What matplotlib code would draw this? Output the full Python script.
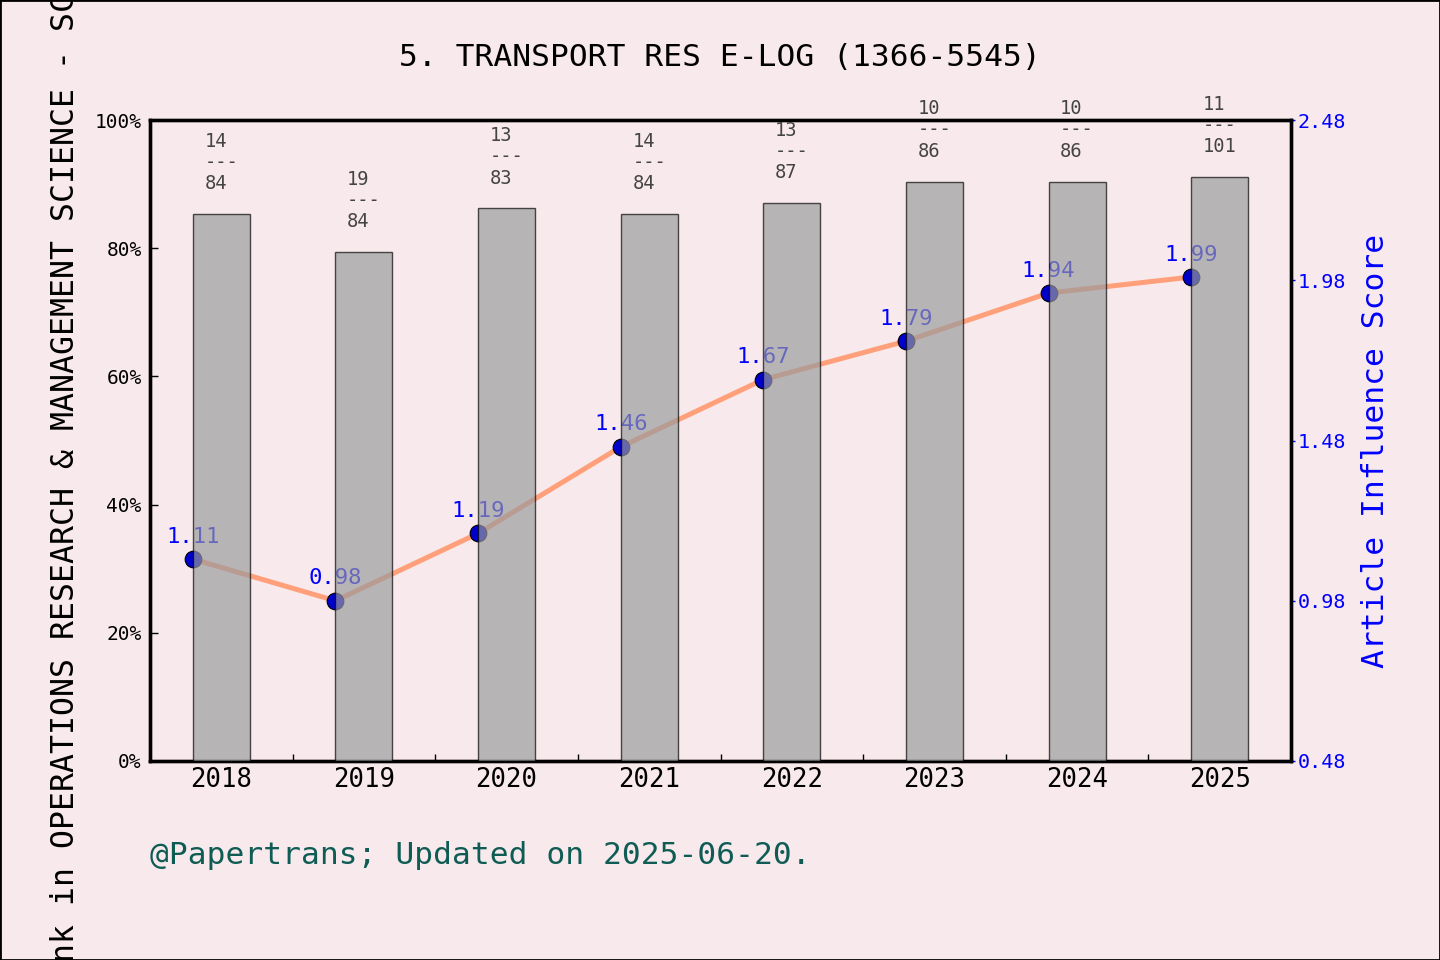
import matplotlib
matplotlib.use("Agg")
import matplotlib.pyplot as plt
from matplotlib.patches import Rectangle
from matplotlib.ticker import FixedLocator

# ── data ──────────────────────────────────────────────────────────────────────
years = ["2018", "2019", "2020", "2021", "2022", "2023", "2024", "2025"]
ranks = [14, 19, 13, 14, 13, 10, 10, 11]
totals = [84, 84, 83, 84, 87, 86, 86, 101]
rank_pct = [85.3, 79.4, 86.2, 85.3, 87.0, 90.4, 90.4, 91.1]   # bar heights (%)
ais = [1.11, 0.98, 1.19, 1.46, 1.67, 1.79, 1.94, 1.99]        # article influence score
score_ticks = [0.48, 0.98, 1.48, 1.98, 2.48]

MONO = "DejaVu Sans Mono"
BG = "#f8e9ec"
BLUE = "blue"

fig = plt.figure(figsize=(14.4, 9.6), dpi=100, facecolor=BG)
rect = [150 / 1440, 199 / 960, 1141 / 1440, 641 / 960]
ax = fig.add_axes(rect)
ax2 = ax.twinx()
ax.set_zorder(2)
ax2.set_zorder(1)
ax.patch.set_visible(False)
ax2.patch.set_facecolor("white")

x = list(range(len(years)))

# ── line (right axis), drawn underneath the bars ──────────────────────────────
ax2.plot(x, ais, color="#ffa07a", lw=3.6, zorder=2)
ax2.plot(x, ais, "o", ms=12, mfc="#0000cd", mec="black", mew=0.8, zorder=3)
for xi, v in zip(x, ais):
    ax2.annotate(f"{v:.2f}", (xi, v), xytext=(0, 9), textcoords="offset points",
                 ha="center", va="bottom", color=BLUE, fontsize=16,
                 family=MONO, zorder=4)
ax2.set_ylim(0.48, 2.48)
ax2.set_yticks(score_ticks)
ax2.set_yticklabels([f"{t:.2f}" for t in score_ticks])
ax2.tick_params(axis="y", direction="out", length=3, width=1, colors=BLUE,
                labelsize=14.5, pad=2)
for lab in ax2.get_yticklabels():
    lab.set_family(MONO)

# ── bars (left axis), semi-transparent on top ─────────────────────────────────
ax.bar(x, [p / 100 for p in rank_pct], width=0.4, align="edge",
       color="#999b9d", alpha=0.68, edgecolor="black", linewidth=1.0, zorder=3)
for xi, r, t, p in zip(x, ranks, totals, rank_pct):
    ax.annotate(f"{r}\n---\n{t}", (xi + 0.2, p / 100), xytext=(0, 15),
                textcoords="offset points", ha="center", va="bottom",
                multialignment="left", color="#444444", fontsize=13.5,
                family=MONO, linespacing=1.15, zorder=4)

ax.set_xlim(-0.3, 7.7)
ax.set_ylim(0, 1)
ax.set_yticks([0, 0.2, 0.4, 0.6, 0.8, 1.0])
ax.set_yticklabels(["0%", "20%", "40%", "60%", "80%", "100%"])
ax.tick_params(axis="y", direction="in", length=6, width=1, labelsize=14, pad=6)
ax.set_xticks([xi + 0.2 for xi in x])
ax.set_xticklabels(years)
ax.tick_params(axis="x", length=0, labelsize=18.5, pad=4)
ax.xaxis.set_minor_locator(FixedLocator([xi + 0.7 for xi in x[:-1]]))
ax.tick_params(axis="x", which="minor", direction="in", length=5, width=1)
for lab in ax.get_xticklabels() + ax.get_yticklabels():
    lab.set_family(MONO)

for a in (ax, ax2):
    for s in a.spines.values():
        s.set_linewidth(2.4)
        s.set_color("black")

# ── texts ─────────────────────────────────────────────────────────────────────
fig.text(0.5, 1 - 57 / 960, "5. TRANSPORT RES E-LOG (1366-5545)",
         ha="center", va="center", fontsize=22.5, family=MONO, color="black")
fig.text(66 / 1440, (960 - 1000) / 960,
         "Rank in OPERATIONS RESEARCH & MANAGEMENT SCIENCE - SCIE",
         rotation=90, ha="center", va="bottom", fontsize=22.7, family=MONO,
         color="black")
fig.text(1375 / 1440, 1 - 451 / 960, "Article Influence Score", rotation=90,
         ha="center", va="center", fontsize=22.5, family=MONO, color=BLUE)
fig.text(150 / 1440, 1 - 855 / 960, "@Papertrans; Updated on 2025-06-20.",
         ha="left", va="center", fontsize=22.5, family=MONO, color="#0f5c55")

fig.patches.append(Rectangle((0, 0), 1, 1, transform=fig.transFigure,
                             fill=False, edgecolor="black", linewidth=2))

fig.savefig("out.png", dpi=100, facecolor=BG)
